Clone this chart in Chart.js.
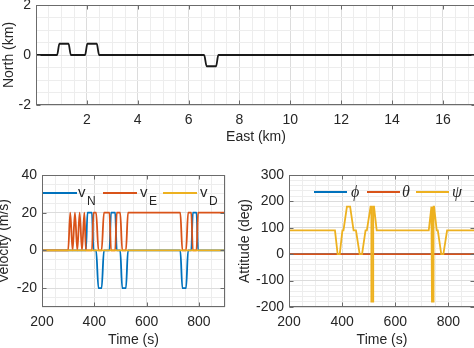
<!DOCTYPE html>
<html>
<head>
<meta charset="utf-8">
<script src="https://cdn.jsdelivr.net/npm/chart.js@4.4.0/dist/chart.umd.min.js"></script>
<style>
  html,body{margin:0;padding:0;background:#fff;overflow:hidden;width:474px;height:348px}
  canvas{position:absolute}
</style>
</head>
<body>
<canvas id="trk" width="476" height="146" style="left:0;top:0"></canvas>
<canvas id="vel" width="244" height="199" style="left:-4px;top:150px"></canvas>
<canvas id="att" width="244" height="199" style="left:234px;top:150px"></canvas>
<script>
/* ---------- data ---------- */
var eastKm   = [0, 0.83, 0.92, 1.28, 1.37, 1.93, 2.02, 2.39, 2.48, 6.61, 6.71, 7.08, 7.17, 17.3];
var northKm  = [0, 0,    0.45, 0.45, 0,    0,    0.45, 0.45, 0,    0,   -0.45,-0.45, 0,    0];
var eastTicks  = [2, 4, 6, 8, 10, 12, 14, 16];
var northTicks = [-2, 0, 2];

var tVN = [200,368,374,391,397,407,416,428,437,458,464,480,486,499,507,521,529,729,737,751,759,771,777,791,797,900];
var vN  = [0,  0,  20, 20, 0,  0, -20,-20, 0,  0,  20, 20, 0,  0, -20,-20, 0,  0, -20,-20, 0,  0,  20, 20, 0,  0];
var tVE = [200,300,308,317,326,335,344,353,362,368,391,397,407,416,428,437,458,464,480,486,499,507,521,529,729,737,751,759,771,777,791,797,900];
var vE  = [0,  0,  20, 0,  20, 0,  20, 0,  20, 0,  0,  20, 20, 0,  0,  20, 20, 0,  0,  20, 20, 0,  0,  20, 20, 0,  0,  20, 20, 0,  0,  20, 20];
var tVD = [200, 900];
var vD  = [0, 0];
var timeTicks = [200, 400, 600, 800];
var velTicks  = [-20, 0, 20, 40];

var tPhi = [200, 900];
var phi  = [0, 0];
var tTheta = [200, 900];
var theta  = [0, 0];
var tPsi = [200,373,383,391,401,405,418,430,443,452,466,475,488,493,507,510,510,517,517,520,530,726,736,738,738,744,744,746,756,760,773,781,795,900];
var psi  = [90, 90, 0,  0,  90, 90, 180,180,90, 90, 0,  0,  90, 90, 180,180,-180,-180,180,180,90,90, 180,180,-180,-180,180,180,90, 90, 0,  0,  90, 90];
var attTicks = [-200, -100, 0, 100, 200, 300];

var C_BLUE = '#0072BD', C_ORANGE = '#D95319', C_YELLOW = '#EDB120';
var TXT = '#262626';
var FONT = "'Liberation Sans', Arial, sans-serif";

Chart.defaults.font.family = FONT;
Chart.defaults.color = TXT;

function pts(xs, ys){ return xs.map(function(x,i){ return {x:x, y:ys[i]}; }); }

// linear axis with minor grid, labels only on the listed values
function axis(min, max, step, labels, size, title, titlePad, tickPad){
  return {
    type:'linear', min:min, max:max,
    afterBuildTicks:function(s){
      var t = [];
      for(var k=Math.ceil(min/step-1e-9); k*step<=max+1e-9; k++) t.push({value:Math.round(k*step*1000)/1000});
      s.ticks = t;
    },
    afterFit:function(s){
      if(s.isHorizontal()){ s.height = size; s.paddingLeft = 0; s.paddingRight = 0; }
      else { s.width = size; s.paddingTop = 0; s.paddingBottom = 0; }
    },
    majors:labels,
    ticks:{ autoSkip:false, maxRotation:0, padding:tickPad, font:{size:14}, color:TXT,
      callback:function(v){ return labels.indexOf(v)!==-1 ? String(v) : ''; } },
    grid:{ drawTicks:false,
      color:function(c){ return c.tick && labels.indexOf(c.tick.value)!==-1 ? '#dcdcdc' : '#ededed'; } },
    border:{display:false},
    title:{ display:true, text:title, font:{size:14}, color:TXT, padding:titlePad }
  };
}

// axes box + small inward tick marks, matlab style
var boxPlugin = {
  id:'box',
  afterDraw:function(chart){
    var a = chart.chartArea, ctx = chart.ctx;
    var L = Math.round(a.left)+0.5, T = Math.round(a.top)+0.5, R = Math.round(a.right)-0.5, B = Math.round(a.bottom)-0.5;
    ctx.save();
    ctx.strokeStyle = '#6b6b6b'; ctx.lineWidth = 1;
    ctx.strokeRect(L, T, R-L, B-T);
    ctx.beginPath();
    var sx = chart.scales.x, sy = chart.scales.y;
    sx.options.majors.forEach(function(v){
      var p = Math.round(sx.getPixelForValue(v))+0.5;
      ctx.moveTo(p, B); ctx.lineTo(p, B-4);
      ctx.moveTo(p, T); ctx.lineTo(p, T+4);
    });
    sy.options.majors.forEach(function(v){
      var p = Math.round(sy.getPixelForValue(v))+0.5;
      ctx.moveTo(L, p); ctx.lineTo(L+4, p);
      ctx.moveTo(R, p); ctx.lineTo(R-4, p);
    });
    ctx.stroke();
    ctx.restore();
  }
};

var legendPlugin = {
  id:'mleg',
  afterDraw:function(chart, args, o){
    if(!o || !o.items) return;
    var ctx = chart.ctx;
    ctx.save();
    o.items.forEach(function(it){
      ctx.strokeStyle = it.color; ctx.lineWidth = 2;
      ctx.beginPath(); ctx.moveTo(it.x0, o.y); ctx.lineTo(it.x1, o.y); ctx.stroke();
      ctx.fillStyle = TXT; ctx.textBaseline = 'alphabetic'; ctx.textAlign = 'left';
      ctx.font = o.font;
      ctx.fillText(it.text, it.tx, o.base);
      if(it.sub){
        ctx.font = o.subFont;
        ctx.fillText(it.sub, it.sx, o.subBase);
      }
    });
    ctx.restore();
  }
};

function line(data, color, order, extra){
  var d = { data:data, borderColor:color, backgroundColor:color, borderWidth:1.8,
    pointRadius:0, showLine:true, fill:false, order:order };
  for(var k in extra) d[k] = extra[k];
  return d;
}

function opts(layoutPad, scales, leg){
  return { responsive:false, animation:false, devicePixelRatio:1,
    layout:{ padding:layoutPad },
    plugins:{ legend:{display:false}, tooltip:{enabled:false}, mleg:leg || {} },
    scales:scales };
}

/* ---------- top: trajectory ---------- */
new Chart(document.getElementById('trk'), {
  type:'scatter',
  data:{ datasets:[ line(pts(eastKm, northKm), '#1a1a1a', 0, {cubicInterpolationMode:'monotone'}) ] },
  options:opts({top:5, right:0, left:0, bottom:0}, {
    x: axis(0, 17.3, 0.5, eastTicks, 41, 'East (km)', {top:0, bottom:0}, 7),
    y: axis(-2, 2, 0.5, northTicks, 36, 'North (km)', {top:1, bottom:0}, 5)
  }),
  plugins:[boxPlugin]
});

/* ---------- bottom left: velocity ---------- */
new Chart(document.getElementById('vel'), {
  type:'scatter',
  data:{ datasets:[
    line(pts(tVN, vN), C_BLUE, 2, {cubicInterpolationMode:'monotone'}),
    line(pts(tVE, vE), C_ORANGE, 1, {cubicInterpolationMode:'monotone'}),
    line(pts(tVD, vD), C_YELLOW, 0, {})
  ] },
  options:opts({top:25, right:15, left:0, bottom:0}, {
    x: axis(200, 900, 50, timeTicks, 42, 'Time (s)', {top:0, bottom:0}, 7),
    y: axis(-30, 40, 5, velTicks, 46, 'Velocity (m/s)', {top:0, bottom:0}, 5)
  }, {
    y:43, base:47, subBase:55, font:"15px " + FONT, subFont:"12px " + FONT,
    items:[
      {color:C_BLUE,   x0:47,  x1:81,  text:'v', tx:82,  sub:'N', sx:91},
      {color:C_ORANGE, x0:107, x1:141, text:'v', tx:144, sub:'E', sx:153},
      {color:C_YELLOW, x0:167, x1:201, text:'v', tx:204, sub:'D', sx:213}
    ]
  }),
  plugins:[boxPlugin, legendPlugin]
});

/* ---------- bottom right: attitude ---------- */
new Chart(document.getElementById('att'), {
  type:'scatter',
  data:{ datasets:[
    line(pts(tPhi, phi), C_BLUE, 2, {}),
    line(pts(tTheta, theta), C_ORANGE, 1, {}),
    line(pts(tPsi, psi), C_YELLOW, 0, {tension:0})
  ] },
  options:opts({top:25, right:3, left:0, bottom:0}, {
    x: axis(200, 900, 50, timeTicks, 42, 'Time (s)', {top:0, bottom:0}, 7),
    y: axis(-200, 300, 20, attTicks, 55, 'Attitude (deg)', {top:3, bottom:0}, 5)
  }, {
    y:42, base:47, font:"italic 16px 'Liberation Serif', 'DejaVu Serif', serif",
    items:[
      {color:C_BLUE,   x0:80,  x1:113, text:'\u03d5', tx:117},
      {color:C_ORANGE, x0:133, x1:166, text:'\u03b8', tx:168},
      {color:C_YELLOW, x0:182, x1:215, text:'\u03c8', tx:218}
    ]
  }),
  plugins:[boxPlugin, legendPlugin]
});
</script>
</body>
</html>
